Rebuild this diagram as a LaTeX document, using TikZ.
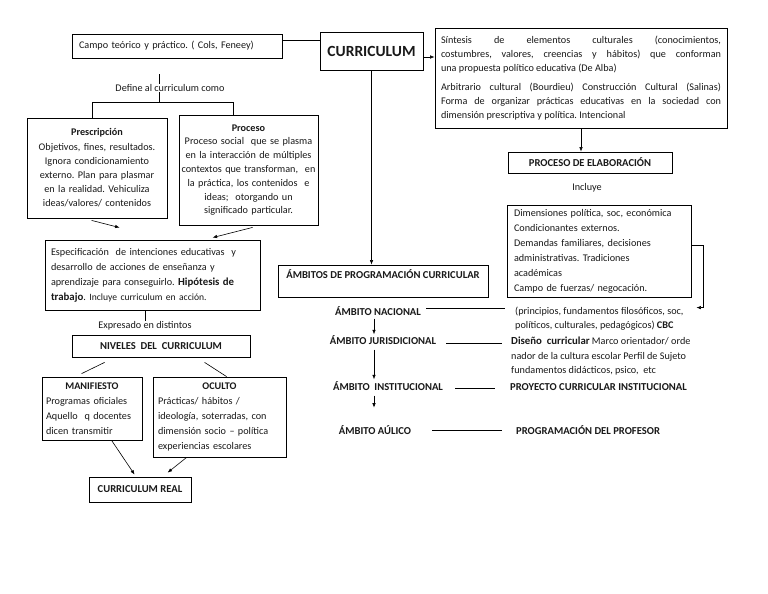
\documentclass[tikz,border=0pt]{standalone}
\usepackage{fontspec}
\setmainfont{Carlito}
\usetikzlibrary{calc,arrows.meta}
\frenchspacing
\begin{document}
\begin{tikzpicture}[x=1pt,y=-1pt,
  every node/.style={font=\fontsize{10.2}{14.5}\selectfont, inner sep=0pt, text=black!90},
  bx/.style={draw, line width=0.8pt, inner xsep=6pt, inner ysep=2pt},
  arr/.style={-{Latex[length=4.5pt,width=3.5pt]}, line width=0.6pt},
  ln/.style={line width=0.6pt},
  hd/.style={font=\fontsize{10.6}{14.5}\selectfont\bfseries}
]
\useasboundingbox[fill=white] (0,0) rectangle (768,594);

% top
\node[bx, minimum width=210, minimum height=24, text width=196, inner xsep=7pt, align=left] (campo) at (177,46) {Campo teórico y práctico. ( Cols, Feneey)};
\node[bx, minimum width=103, minimum height=38, font=\fontsize{15.5}{17}\selectfont\bfseries] (curr) at (371.5,51) {CURRICULUM};
\node[bx, minimum width=292, minimum height=100, text width=280, inner xsep=6pt, align=justify, font=\fontsize{10.2}{14}\selectfont] (sint) at (581,78) {Síntesis de elementos culturales (conocimientos,\linebreak costumbres, valores, creencias y hábitos) que conforman\linebreak una propuesta político educativa (De Alba)\\[5pt]Arbitrario cultural (Bourdieu) Construcción Cultural (Salinas)\linebreak Forma de organizar prácticas educativas en la sociedad con\linebreak dimensión prescriptiva y política. Intencional};

\draw[ln] ([yshift=6pt]campo.east) -- ([yshift=6pt]campo.east -| curr.west);
\draw[arr] ([yshift=-6pt]curr.east) -- ([yshift=-6pt]curr.east -| sint.west);

% left column
\node (define) at (170,88) {Define al curriculum como};
\node[bx, minimum width=140, minimum height=100, text width=134, inner xsep=3pt, align=center, font=\fontsize{10.2}{14.2}\selectfont] (presc) at (97,168) {\textbf{Prescripción}\\Objetivos, fines, resultados.\\Ignora condicionamiento\\externo. Plan para plasmar\\en la realidad. Vehiculiza\\ideas/valores/ contenidos};
\node[bx, minimum width=139, minimum height=110, text width=135, inner xsep=2pt, align=center, font=\fontsize{10.2}{13.8}\selectfont] (proc) at (248.5,170) {\textbf{Proceso}\\Proceso social\ \ que se plasma\\en la interacción de múltiples\\contextos que transforman,\ \ en\\la práctica, los contenidos\ \ e\\ideas;\ \ otorgando un\\significado particular.};

\coordinate (dt) at (159,74);
\coordinate (jl) at (92,102);
\coordinate (jr) at (233,102);
\draw[ln] (dt) -- (dt |- define.north);
\draw[ln] (define.south -| dt) -- (dt |- jl);
\draw[ln] (jl) -- (jr);
\draw[ln] (jl) -- (jl |- presc.north);
\draw[ln] (jr) -- (jr |- proc.north);

\node[bx, minimum width=215, minimum height=70, text width=203, inner xsep=6pt, align=left, font=\fontsize{10.2}{15}\selectfont] (esp) at (152.5,275) {Especificación\ \ de intenciones educativas\ \ y\\desarrollo de acciones de enseñanza y\\aprendizaje para conseguirlo. {\fontsize{10.8}{15}\selectfont\bfseries Hipótesis de}\\{\fontsize{10.8}{15}\selectfont\bfseries trabajo}. {\fontsize{9.6}{15}\selectfont Incluye curriculum en acción.}};

\draw[arr] ($(presc.south west)+(65,2)$) -- ($(esp.north west)+(75,-12)$);
\draw[arr] ($(proc.south west)+(74,2)$) -- ($(esp.north west)+(168,-2)$);

\node (expr) at (145,326) {Expresado en distintos};
\draw[ln] (esp.south -| expr.north) -- (expr.north);

\node[bx, hd, minimum width=178, minimum height=22] (niv) at (161,346) {NIVELES\ \ DEL\ \ CURRICULUM};

\node[bx, minimum width=100, minimum height=63, text width=92, inner xsep=4pt, align=left, font=\fontsize{10.2}{15}\selectfont] (man) at (92,408.5) {\hfill\textbf{MANIFIESTO}\hfill\null\\Programas oficiales\\Aquello\ \ q docentes\\dicen transmitir};
\node[bx, minimum width=133, minimum height=80, text width=123, inner xsep=5pt, align=left, font=\fontsize{10.2}{15}\selectfont] (ocu) at (219.5,417) {\hfill\textbf{OCULTO}\hfill\null\\Prácticas/ hábitos /\\ideología, soterradas, con\\dimensión socio – política\\experiencias escolares};
\node[bx, hd, minimum width=102, minimum height=25] (real) at (140,489.5) {CURRICULUM REAL};

\draw[ln] ($(niv.south west)+(33,5)$) -- ($(man.north west)+(40,-3)$);
\draw[ln] ($(niv.south west)+(133,5)$) -- ($(ocu.north west)+(74,0)$);
\draw[arr] ($(man.south west)+(70,0)$) -- ($(real.north west)+(46,-2)$);
\draw[arr] ($(ocu.south west)+(34,0)$) -- ($(real.north west)+(79,-4)$);

% middle
\node[bx, hd, minimum width=210, minimum height=32, align=center] (amb) at (383,281) {ÁMBITOS DE PROGRAMACIÓN CURRICULAR\\\mbox{}};
\draw[arr] (curr.south) -- (curr.south |- amb.north);

\coordinate (col) at (374,0);
\node[hd] (N1) at (378,311) {ÁMBITO NACIONAL};
\node[hd] (N2) at (383,340) {ÁMBITO JURISDICIONAL};
\node[hd] (N3) at (388,386) {ÁMBITO\ \ INSTITUCIONAL};
\node[hd] (N4) at (375,430) {ÁMBITO AÚLICO};

\draw[arr] ($(N1.south -| col)+(0,3)$) -- ($(N2.north -| col)+(0,-1)$);
\draw[arr] ($(N2.south -| col)+(0,5)$) -- ($(N3.north -| col)+(0,-2)$);
\draw[arr] ($(N3.south -| col)+(0,5)$) -- ($(N3.south -| col)+(0,17)$);

% right
\node[bx, hd, minimum width=164, minimum height=21] (pel) at (590,162.5) {PROCESO DE ELABORACIÓN};
\draw[arr] (sint.south) -- (sint.south |- pel.north);
\node (incl) at (587,188) {Incluye};
\node[bx, minimum width=184, minimum height=92, text width=170, inner xsep=7pt, align=left, font=\fontsize{10.2}{15}\selectfont] (dim) at (599,251) {Dimensiones política, soc, económica\\Condicionantes externos.\\Demandas familiares, decisiones\\administrativas. Tradiciones\\académicas\\Campo de fuerzas/ negocación.};

\node[anchor=west, align=left, font=\fontsize{10.2}{14}\selectfont] (R1) at (515,319) {(principios, fundamentos filosóficos, soc,\\políticos, culturales, pedagógicos) {\bfseries CBC}};
\node[anchor=west, align=left, font=\fontsize{10.2}{14.5}\selectfont] (R2) at (511,356.5) {{\fontsize{10.8}{14.5}\selectfont\bfseries Diseño\ \ curricular} Marco orientador/ orde\\nador de la cultura escolar Perfil de Sujeto\\fundamentos didácticos, psico,\ \ etc};
\node[anchor=west, hd] (R3) at (510,387) {PROYECTO CURRICULAR INSTITUCIONAL};
\node[anchor=west, hd] (R4) at (516,430) {PROGRAMACIÓN DEL PROFESOR};

\draw[arr] ($(dim.north east)+(0,41)$) -- ++(12,0) -- ++(0,62) -- ++(-7,0);

\draw[ln] ($(N1.east)+(5,-3)$) -- ($(R1.west |- N1.east)+(-10,-3)$);
\draw[ln] ($(N2.east)+(10,3)$) -- ($(R2.west |- N2.east)+(-9,3)$);
\draw[ln] ($(N3.east)+(12,2)$) -- ($(R3.west |- N3.east)+(-15,2)$);
\draw[ln] ($(N4.east)+(21,0)$) -- ($(R4.west |- N4.east)+(-14,0)$);
\end{tikzpicture}
\end{document}
